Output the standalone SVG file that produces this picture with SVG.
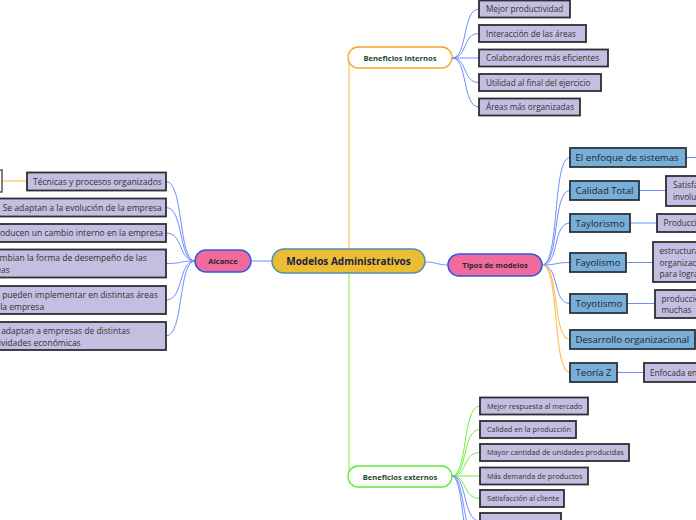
<svg xmlns="http://www.w3.org/2000/svg" width="696" height="520" viewBox="0 0 696 520">
<style>
text{font-family:"Open Sans","Noto Sans",sans-serif}
.c{fill:none;stroke:#6d8dff;stroke-width:1}
.co{fill:none;stroke:#ffc060;stroke-width:1.2}
.cg{fill:none;stroke:#6fee48;stroke-width:1}
.lv{fill:#c4bee0;stroke:#2e2e36;stroke-width:1.8}
.bl{fill:#79aed6;stroke:#27333f;stroke-width:1.8}
.t8{font-size:8.2px;fill:#333}
.t85{font-size:8.5px;fill:#333}
.t7{font-size:7.3px;fill:#333}
.tb{font-size:9.6px;fill:#1b2733}
.hd{font-size:7.6px;font-weight:bold;fill:#1d4a2c;text-anchor:middle}
.pk{fill:#f06b9b;stroke:#2f55e0;stroke-width:1.5}
.pt{font-size:7.6px;font-weight:bold;fill:#2a2a2a;text-anchor:middle}
</style>
<rect width="696" height="520" fill="#fff"/>
<g id="connectors">
<path class="co" d="M349,62 L349,249"/>
<path class="cg" d="M349,273 L349,472"/>
<path class="c" d="M251,261 L272,261"/>
<path class="c" d="M425,262 C436,262 438,265 448,265"/>
<path class="c" d="M452,58 C468,58 462,9 479,9"/>
<path class="c" d="M452,58 C468,58 462,33.5 479,33.5"/>
<path class="c" d="M452,58 L479,58"/>
<path class="c" d="M452,58 C468,58 462,82.5 479,82.5"/>
<path class="c" d="M452,58 C468,58 462,107 479,107"/>
<path class="c" d="M195,261 C178,261 184,181.5 166,181.5"/>
<path class="c" d="M195,261 C178,261 184,207.5 166,207.5"/>
<path class="c" d="M195,261 C178,261 184,233 166,233"/>
<path class="c" d="M195,261 C178,261 184,263.5 166,263.5"/>
<path class="c" d="M195,261 C178,261 184,300 166,300"/>
<path class="c" d="M195,261 C178,261 184,336 166,336"/>
<path class="co" d="M2,181 L27,181"/>
<path class="c" d="M542,265 C560,265 552,157.5 570,157.5"/>
<path class="c" d="M542,265 C560,265 552,190.5 570,190.5"/>
<path class="c" d="M542,265 C560,265 552,223 570,223"/>
<path class="c" d="M542,265 C556,265 556,262.5 570,262.5"/>
<path class="c" d="M542,265 C560,265 552,303.5 570,303.5"/>
<path class="co" d="M542,265 C560,265 552,339.5 570,339.5"/>
<path class="co" d="M542,265 C560,265 552,372.5 570,372.5"/>
<path class="c" d="M686,157.5 L696,157.5"/>
<path class="c" d="M639,190.5 L666,190.5"/>
<path class="c" d="M630,223 L657,223"/>
<path class="c" d="M626,262.5 L653,262.5"/>
<path class="c" d="M627,303.5 L655,303.5"/>
<path class="c" d="M617,372.5 L644,372.5"/>
<path class="cg" d="M452,476 C468,476 462,406 480,406"/>
<path class="cg" d="M452,476 C468,476 462,429.5 480,429.5"/>
<path class="cg" d="M452,476 C468,476 462,452.5 480,452.5"/>
<path class="cg" d="M452,476 L480,476"/>
<path class="cg" d="M452,476 C468,476 462,498.5 480,498.5"/>
<path class="c" d="M452,476 C468,476 462,521 480,521"/>
<path class="c" d="M452,476 C466,476 462,545 480,545"/>
<path class="c" d="M452,476 C465,476 462,570 480,570"/>
</g>
<g id="central">
<rect x="272" y="249" width="153" height="24" rx="12" fill="#ebbd32" stroke="#4f8fb0" stroke-width="1.5"/>
<text x="348.5" y="265" font-size="10px" font-weight="bold" fill="#1c1c48" text-anchor="middle">Modelos Administrativos</text>
</g>
<g id="alcance">
<rect x="195" y="250" width="56" height="22" rx="11" class="pk"/>
<text x="223" y="264" class="pt">Alcance</text>
</g>
<g id="tipos">
<rect x="448" y="254" width="94" height="22" rx="11" class="pk"/>
<text x="495" y="268" class="pt">Tipos de modelos</text>
</g>
<g id="ben-int">
<rect x="348" y="47" width="104" height="21" rx="10.5" fill="#fff" stroke="#f5a623" stroke-width="1.3"/>
<text x="400" y="60.5" class="hd">Beneficios internos</text>
</g>
<g id="ben-ext">
<rect x="348" y="466" width="104" height="21" rx="10.5" fill="#fff" stroke="#5fe838" stroke-width="1.3"/>
<text x="400" y="479.5" class="hd">Beneficios externos</text>
</g>
<g id="int-1"><rect x="479" y="0.5" width="91" height="17" class="lv"/><text x="486" y="12" class="t8">Mejor productividad</text></g>
<g id="int-2"><rect x="479" y="25" width="107" height="17" class="lv"/><text x="486" y="36.5" class="t8">Interacción de las áreas</text></g>
<g id="int-3"><rect x="479" y="49.5" width="129" height="17" class="lv"/><text x="486" y="61" class="t8">Colaboradores más eficientes</text></g>
<g id="int-4"><rect x="479" y="74" width="122" height="17" class="lv"/><text x="486" y="85.5" class="t8">Utilidad al final del ejercicio</text></g>
<g id="int-5"><rect x="479" y="98.5" width="101" height="17" class="lv"/><text x="486" y="110" class="t8">Áreas más organizadas</text></g>
<g id="alc-0"><rect x="-50" y="170" width="52" height="22" fill="#fff" stroke="#555" stroke-width="1.5"/></g>
<g id="alc-1"><rect x="27" y="172.5" width="139" height="18" class="lv"/><text x="33" y="184.5" class="t85">Técnicas y procesos organizados</text></g>
<g id="alc-2"><rect x="-3" y="198.5" width="169" height="18" class="lv"/><text x="2.7" y="210.5" class="t85">Se adaptan a la evolución de la empresa</text></g>
<g id="alc-3"><rect x="-15" y="224" width="181" height="18" class="lv"/><text x="-8.6" y="236" class="t85">Producen un cambio interno en la empresa</text></g>
<g id="alc-4"><rect x="-17" y="249.5" width="183" height="28" class="lv"/><text x="-10.5" y="261" class="t85">Cambian la forma de desempeño de las</text><text x="-12" y="273" class="t85">áreas</text></g>
<g id="alc-5"><rect x="-17" y="286" width="183" height="28" class="lv"/><text x="-9.5" y="297.5" class="t85">Se pueden implementar en distintas áreas</text><text x="-12" y="309.5" class="t85">de la empresa</text></g>
<g id="alc-6"><rect x="-17" y="322" width="183" height="28" class="lv"/><text x="-10.5" y="333.5" class="t85">Se adaptan a empresas de distintas</text><text x="-13" y="345.5" class="t85">actividades económicas</text></g>
<g id="tip-1"><rect x="570" y="148" width="116" height="19" class="bl"/><text x="575.5" y="161" class="tb">El enfoque de sistemas</text></g>
<g id="tip-2"><rect x="570" y="181" width="69" height="19" class="bl"/><text x="575.5" y="194" class="tb">Calidad Total</text></g>
<g id="tip-3"><rect x="570" y="214" width="60" height="18" class="bl"/><text x="575.5" y="226.5" class="tb">Taylorismo</text></g>
<g id="tip-4"><rect x="570" y="253" width="56" height="19" class="bl"/><text x="575.5" y="266" class="tb">Fayolismo</text></g>
<g id="tip-5"><rect x="570" y="294" width="57" height="19" class="bl"/><text x="575.5" y="307" class="tb">Toyotismo</text></g>
<g id="tip-6"><rect x="570" y="330" width="125" height="19" class="bl"/><text x="575.5" y="343" class="tb">Desarrollo organizacional</text></g>
<g id="tip-7"><rect x="570" y="363" width="47" height="19" class="bl"/><text x="575.5" y="376" class="tb">Teoría Z</text></g>
<g id="tip-2a"><rect x="666" y="176" width="60" height="30" class="lv"/><text x="673" y="188" class="t8">Satisfacción</text><text x="673" y="199.5" class="t8">involucra</text></g>
<g id="tip-3a"><rect x="657" y="214" width="60" height="18" class="lv"/><text x="663.5" y="226" class="t8">Producción</text></g>
<g id="tip-4a"><rect x="653" y="242" width="60" height="40" class="lv"/><text x="659.5" y="254" class="t8">estructura</text><text x="659.5" y="265.5" class="t8">organización</text><text x="659.5" y="277" class="t8">para lograr</text></g>
<g id="tip-5a"><rect x="655" y="290" width="60" height="28" class="lv"/><text x="661.5" y="301.5" class="t8">producción</text><text x="661.5" y="313" class="t8">muchas</text></g>
<g id="tip-7a"><rect x="644" y="363" width="70" height="19" class="lv"/><text x="650" y="375.5" class="t8">Enfocada en</text></g>
<g id="ext-1"><rect x="480" y="397.5" width="108" height="17" class="lv"/><text x="487" y="408.8" class="t7">Mejor respuesta al mercado</text></g>
<g id="ext-2"><rect x="480" y="421" width="96" height="17" class="lv"/><text x="487" y="432.3" class="t7">Calidad en la producción</text></g>
<g id="ext-3"><rect x="480" y="444" width="149" height="17" class="lv"/><text x="487" y="455.3" class="t7">Mayor cantidad de unidades producidas</text></g>
<g id="ext-4"><rect x="480" y="467.5" width="108" height="17" class="lv"/><text x="487" y="478.8" class="t7">Más demanda de productos</text></g>
<g id="ext-5"><rect x="480" y="490" width="84" height="17" class="lv"/><text x="487" y="501.3" class="t7">Satisfacción al cliente</text></g>
<g id="ext-6"><rect x="480" y="513" width="81" height="17" class="lv"/></g>
</svg>
